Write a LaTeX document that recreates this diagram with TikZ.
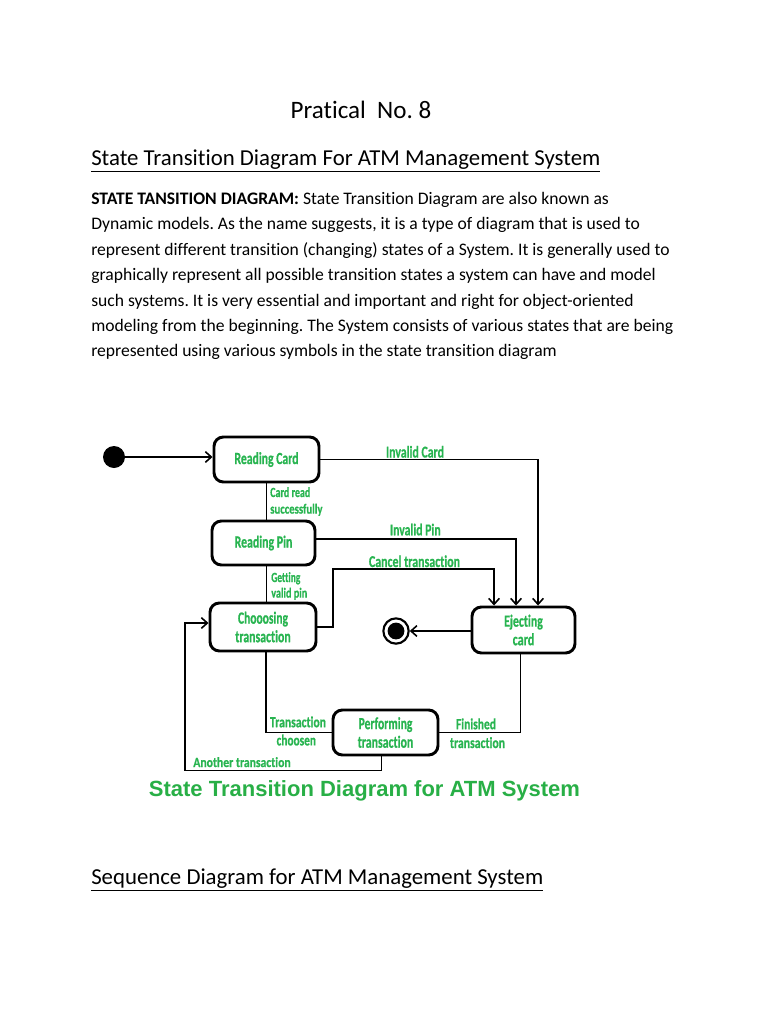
\documentclass[tikz,border=0pt]{standalone}
\usepackage{fontspec}
\usepackage{graphicx}
\setmainfont[Ligatures={NoCommon}]{Carlito}
\newfontfamily\lblfont[Ligatures={NoCommon},FakeBold=0.8]{Carlito}
\newfontfamily\capfont{Liberation Sans}
\usetikzlibrary{arrows.meta,calc}
\definecolor{dgreen}{RGB}{40,180,80}
\definecolor{cgreen}{RGB}{40,175,70}
\newcommand\hfit[2]{\resizebox{#1}{\height}{#2}}
\frenchspacing
\tikzset{
  statebox/.style={draw=black, line width=2.2pt, rounded corners=7pt, align=center,
    font=\lblfont\bfseries\fontsize{12.8}{13.9}\selectfont, text=dgreen, inner sep=0pt},
  trans/.style={draw=black, line width=1.4pt},
  arr/.style={trans, -{Straight Barb[length=4.5pt,width=8pt,line width=1.2pt]}},
  tlabel/.style={font=\lblfont\bfseries\fontsize{12.4}{13}\selectfont, text=dgreen, inner sep=0pt, anchor=base},
  bodyline/.style={anchor=base west, inner sep=0pt, font=\fontsize{13.2}{15}\selectfont},
}
\begin{document}
\begin{tikzpicture}[x=0.75pt,y=-0.75pt]
\useasboundingbox (0,0) rectangle (768,1024);
% header text
\node[inner sep=0pt, anchor=base, font=\fontsize{18.8}{20}\selectfont] (title) at (361,118) {Pratical\ \ No. 8};
\node[inner sep=0pt, anchor=base west, font=\fontsize{17.1}{19}\selectfont] (head) at (91,165) {\underline{State Transition Diagram For ATM Management System}};
\node[bodyline] (l1) at (91,204.8) {\textbf{STATE TANSITION DIAGRAM:} State Transition Diagram are also known as};
\node[bodyline] (l2) at (91,229.8) {Dynamic models. As the name suggests, it is a type of diagram that is used to};
\node[bodyline] (l3) at (91,255.5) {represent different transition (changing) states of a System. It is generally used to};
\node[bodyline] (l4) at (91,280.5) {graphically represent all possible transition states a system can have and model};
\node[bodyline] (l5) at (91,306.2) {such systems. It is very essential and important and right for object-oriented};
\node[bodyline] (l6) at (91,331.5) {modeling from the beginning. The System consists of various states that are being};
\node[bodyline] (l7) at (91,356.2) {represented using various symbols in the state transition diagram};
\node[inner sep=0pt, anchor=base west, font=\fontsize{17.1}{19}\selectfont] (head2) at (91,884) {\underline{Sequence Diagram for ATM Management System}};

% states
\node[circle, fill=black, minimum size=16.5pt, inner sep=0pt] (init) at (114,457) {};
\node[statebox, minimum width=78.75pt, minimum height=33.75pt] (rc) at (266.5,459.5) {\hfit{48pt}{Reading Card}};
\node[statebox, minimum width=77.25pt, minimum height=33pt] (rp) at (263.5,543) {\hfit{43.3pt}{Reading Pin}};
\node[statebox, minimum width=79.5pt, minimum height=36pt] (ct) at (263,627) {\hfit{37.5pt}{Chooosing}\\\hfit{41.5pt}{transaction}};
\node[statebox, minimum width=77.25pt, minimum height=34.5pt] (ec) at (523.5,630) {\hfit{29pt}{Ejecting}\\\hfit{16.2pt}{card}};
\node[statebox, minimum width=78.75pt, minimum height=33.75pt] (pt) at (385.5,732.5) {\hfit{40.3pt}{Performing}\\\hfit{41.7pt}{transaction}};
\node[circle, draw=black, line width=1.6pt, minimum size=19pt, inner sep=0pt] (final) at (396,631) {};
\fill[black] (final) circle (6.3pt);

% transitions
\draw[arr] (init) -- (init -| rc.west);
\draw[trans] (rc.south) -- (rc.south |- rp.north);
\draw[trans] ([xshift=2.25pt]rp.south) -- ([xshift=2.25pt]rp.south |- ct.north);
\draw[arr] (rc.east) -| ([xshift=10.9pt]ec.north);
\draw[arr] ([yshift=3pt]rp.east) -| ([xshift=-5.6pt]ec.north);
\draw[arr] (ct.east) -| (333,569) -| ([xshift=-22.1pt]ec.north);
\draw[arr] (ec.west |- final) -- (final);
\draw[trans] ([xshift=2.5pt]ct.south) |- (pt.west);
\draw[trans] ([xshift=-2.25pt]ec.south) |- (pt.east);
\draw[arr] ([xshift=-3pt]pt.south) |- (185,770.5) |- ([yshift=3pt]ct.west);

% labels
\node[tlabel] (lic) at (415,457.5) {\hfit{43.5pt}{Invalid Card}};
\node[tlabel] (lip) at (415.3,535.3) {\hfit{38pt}{Invalid Pin}};
\node[tlabel] (lcan) at (414.5,567) {\hfit{68.3pt}{Cancel transaction}};
\node[tlabel, anchor=base west, font=\lblfont\bfseries\fontsize{10.5}{12}\selectfont] (lcr1) at (270,497) {\hfit{30pt}{Card read}};
\node[tlabel, anchor=base west, font=\lblfont\bfseries\fontsize{10.5}{12}\selectfont] (lcr2) at (270,513.6) {\hfit{39.2pt}{successfully}};
\node[tlabel, anchor=base west, font=\lblfont\bfseries\fontsize{10.5}{12}\selectfont] (lgv1) at (271,582) {\hfit{21.8pt}{Getting}};
\node[tlabel, anchor=base west, font=\lblfont\bfseries\fontsize{10.5}{12}\selectfont] (lgv2) at (271,597.6) {\hfit{27pt}{valid pin}};
\node[tlabel, font=\lblfont\bfseries\fontsize{11.6}{13}\selectfont] (ltc1) at (298,727.2) {\hfit{42pt}{Transaction}};
\node[tlabel, font=\lblfont\bfseries\fontsize{11.6}{13}\selectfont] (ltc2) at (296.3,745.4) {\hfit{29.5pt}{choosen}};
\node[tlabel, font=\lblfont\bfseries\fontsize{11.6}{13}\selectfont] (lft1) at (476,729.2) {\hfit{30pt}{Finished}};
\node[tlabel, font=\lblfont\bfseries\fontsize{11.6}{13}\selectfont] (lft2) at (477.5,748) {\hfit{41.3pt}{transaction}};
\node[tlabel, font=\lblfont\bfseries\fontsize{10.5}{12}\selectfont] (lat) at (242,767) {\hfit{73pt}{Another transaction}};

% caption
\node[inner sep=0pt, text=cgreen, font=\capfont\bfseries\fontsize{16.5}{18}\selectfont] (cap) at (364.5,791) {State Transition Diagram for ATM System};
\end{tikzpicture}
\end{document}
